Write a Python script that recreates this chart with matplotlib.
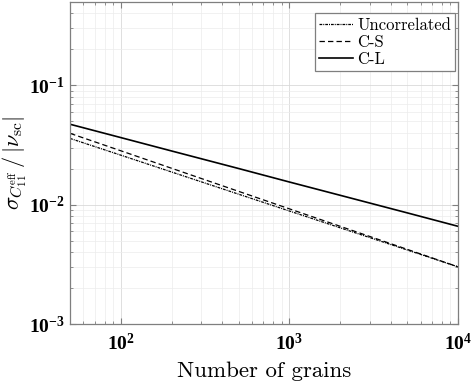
import matplotlib
matplotlib.use('Agg')
import matplotlib.pyplot as plt
from matplotlib.ticker import LogLocator, FuncFormatter, NullFormatter
import numpy as np

# data (log-log)
grains = [50, 100, 200, 500, 1000, 2000, 5000, 10000]
uncorrelated = [0.0359, 0.0260, 0.0188, 0.01225, 0.00886, 0.00641, 0.00418, 0.00302]
c_s = [0.0396, 0.0283, 0.0202, 0.01294, 0.00924, 0.00660, 0.00423, 0.00302]
c_l = [0.0472, 0.0365, 0.0282, 0.0201, 0.0155, 0.0120, 0.00855, 0.0066]

plt.rcParams['mathtext.fontset'] = 'custom'
plt.rcParams['mathtext.rm'] = 'Liberation Serif:bold'
plt.rcParams['mathtext.bf'] = 'Liberation Serif:bold'
plt.rcParams['mathtext.it'] = 'Liberation Serif:bold:italic'

fig = plt.figure(figsize=(4.74, 3.84), dpi=100)
ax = fig.add_axes([0.148, 0.156, 0.818, 0.839])

ax.loglog(grains, uncorrelated, color='black', linestyle=(0, (2.2, 0.8, 0.8, 0.8)),
          linewidth=0.9, label='Uncorrelated')
ax.loglog(grains, c_s, color='black', linestyle=(0, (4.3, 2.5)), linewidth=0.9, label='C-S')
ax.loglog(grains, c_l, color='black', linestyle='-', linewidth=1.2, label='C-L')

ax.set_xlim(50, 1e4)
ax.set_ylim(1e-3, 0.5)

# MATLAB-like grid and box
ax.grid(True, which='major', color='#d9d9d9', linewidth=0.6)
ax.grid(True, which='minor', color='#ececec', linewidth=0.5)
ax.set_axisbelow(True)
for s in ax.spines.values():
    s.set_color('#7f7f7f')
    s.set_linewidth(0.9)
ax.tick_params(which='both', direction='in', top=True, right=True, color='#7f7f7f')
ax.tick_params(which='major', length=4)
ax.tick_params(which='minor', length=2.5)

ax.xaxis.set_major_locator(LogLocator(base=10, numticks=10))
ax.yaxis.set_major_locator(LogLocator(base=10, numticks=10))
ax.xaxis.set_minor_locator(LogLocator(base=10, subs=np.arange(2, 10), numticks=10))
ax.yaxis.set_minor_locator(LogLocator(base=10, subs=np.arange(2, 10), numticks=10))
ax.xaxis.set_minor_formatter(NullFormatter())
ax.yaxis.set_minor_formatter(NullFormatter())

fmt = FuncFormatter(lambda v, pos: r'$\mathbf{10^{%d}}$' % round(np.log10(v)))
ax.xaxis.set_major_formatter(fmt)
ax.yaxis.set_major_formatter(fmt)
for lab in ax.get_xticklabels() + ax.get_yticklabels():
    lab.set_fontsize(14)
ax.tick_params(axis='x', pad=6)
ax.tick_params(axis='y', pad=4)

ax.set_xlabel('Number of grains', fontfamily='cmr10', fontsize=16.5, labelpad=6)
ax.set_ylabel(r'$\sigma_{C_{11}^{\rm eff}}\,/\,|\nu_{\rm sc}|$', fontsize=16,
              math_fontfamily='cm', va='center')
ax.yaxis.set_label_coords(-0.142, 0.5)

leg = ax.legend(loc='upper right', bbox_to_anchor=(0.993, 0.965), borderaxespad=0,
                prop={'family': 'cmr10', 'size': 12}, handlelength=2.05,
                handletextpad=0.25, labelspacing=0.12, borderpad=0.25,
                fancybox=False, framealpha=1)
leg.get_frame().set_edgecolor('#7f7f7f')
leg.get_frame().set_linewidth(0.9)

fig.savefig('out.png', dpi=100)
